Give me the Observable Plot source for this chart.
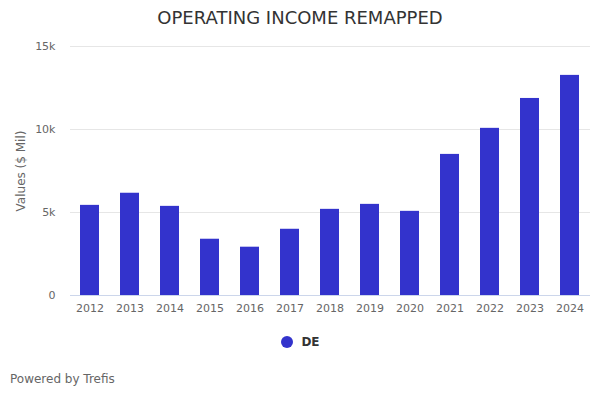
<!DOCTYPE html>
<html>
<head>
<meta charset="utf-8">
<script src="https://cdn.jsdelivr.net/npm/d3@7"></script>
<script src="https://cdn.jsdelivr.net/npm/@observablehq/plot@0.6"></script>
<style>
  body { margin: 0; background: #fff; font-family: "DejaVu Sans", sans-serif; }
  #wrap { width: 600px; height: 400px; position: relative; }
  #title { height: 36px; line-height: 36px; text-align: center; font-size: 18px; color: #333; }
  #legend { height: 32px; display: flex; align-items: center; justify-content: center; font-size: 12px; font-weight: bold; color: #333; padding-left: 4px; }
  #legend .dot { width: 12px; height: 12px; border-radius: 50%; background: #3333cc; margin-right: 8px; margin-left: -3px; }
  #caption { margin-top: 14px; padding-left: 10px; font-size: 12px; color: #666; }
  svg { display: block; }
</style>
</head>
<body>
<div id="wrap">
  <div id="title">OPERATING INCOME REMAPPED</div>
  <div id="chart"></div>
  <div id="legend"><span class="dot"></span><span>DE</span></div>
  <div id="caption">Powered by Trefis</div>
</div>
<script>
const years = ["2012","2013","2014","2015","2016","2017","2018","2019","2020","2021","2022","2023","2024"];
const values = [5430, 6160, 5370, 3390, 2910, 3990, 5190, 5490, 5070, 8500, 10070, 11870, 13260];
const yTicks = [0, 5000, 10000, 15000];
const seriesName = "DE";
const barColor = "#3333cc";

const data = years.map((y, i) => ({year: y, value: values[i], series: seriesName}));

const chart = Plot.plot({
  width: 600,
  height: 290,
  marginTop: 10,
  marginBottom: 31,
  marginLeft: 70,
  marginRight: 10,
  style: {fontFamily: "DejaVu Sans, sans-serif", fontSize: "11px", color: "#666"},
  x: {domain: years, paddingInner: 0.52, paddingOuter: 0.26, label: null},
  y: {domain: [0, 15000], label: null},
  marks: [
    Plot.gridY(yTicks, {stroke: "#e6e6e6", strokeOpacity: 1}),
    Plot.barY(data, {x: "year", y: "value", fill: barColor}),
    Plot.ruleY([0], {stroke: "#ccd6eb"}),
    Plot.axisX({tickSize: 0, tickPadding: 9, fontSize: 11, fill: "#666", label: null}),
    Plot.axisY(yTicks, {tickSize: 0, tickPadding: 15, fontSize: 11, fill: "#666",
      tickFormat: d => d === 0 ? "0" : (d / 1000) + "k", label: null}),
    Plot.axisY([], {tickSize: 0, fontSize: 12, fill: "#666",
      label: "Values ($ Mil)", labelAnchor: "center", labelOffset: 54, labelArrow: "none"})
  ]
});
document.getElementById("chart").appendChild(chart);
</script>
</body>
</html>
